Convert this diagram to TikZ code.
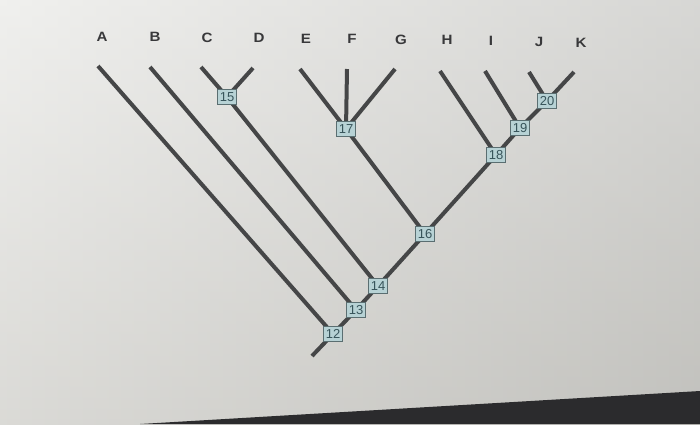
\documentclass[tikz,border=0pt]{standalone}
\usepackage{fontspec}
\setmainfont{Liberation Sans}
\definecolor{bgtop}{HTML}{F0F0EE}
\definecolor{bgbot}{HTML}{C9C8C3}
\definecolor{bgright}{HTML}{B9B9B6}
\definecolor{bezel}{HTML}{2B2B2D}
\definecolor{branch}{HTML}{454647}
\definecolor{boxfill}{HTML}{B7D2D5}
\definecolor{boxdraw}{HTML}{5A6E71}
\definecolor{boxtext}{HTML}{37545A}
\definecolor{labeltext}{HTML}{38383A}
\newcommand{\taxlab}[1]{\scalebox{1.12}[1]{#1}}
\tikzset{
  taxon/.style={font=\fontsize{13.5}{13.5}\selectfont\bfseries, text=labeltext, inner sep=0pt},
  nodebox/.style={draw=boxdraw, line width=0.8pt, fill=boxfill, minimum width=19pt, minimum height=15pt, inner sep=0pt, font=\fontsize{13}{13}\selectfont, text=boxtext},
  branchline/.style={draw=branch, line width=4pt},
}
\begin{document}
\begin{tikzpicture}[x=1pt,y=-1pt]
\useasboundingbox (0,0) rectangle (700,424);
\shade[top color=bgtop, bottom color=bgbot] (0,0) rectangle (700,424);
\shade[left color=bgtop, right color=bgright, opacity=0.45] (0,0) rectangle (700,424);
\fill[bezel] (140,424) -- (700,391) -- (700,424) -- cycle;
% taxon labels
\node[taxon] (lA) at (102,37) {\taxlab{A}};
\node[taxon] (lB) at (155,37) {\taxlab{B}};
\node[taxon] (lC) at (207,38) {\taxlab{C}};
\node[taxon] (lD) at (259,38) {\taxlab{D}};
\node[taxon] (lE) at (306,39) {\taxlab{E}};
\node[taxon] (lF) at (352,39) {\taxlab{F}};
\node[taxon] (lG) at (401,40) {\taxlab{G}};
\node[taxon] (lH) at (447,40) {\taxlab{H}};
\node[taxon] (lI) at (491,41) {\taxlab{I}};
\node[taxon] (lJ) at (539,42) {\taxlab{J}};
\node[taxon] (lK) at (581,43) {\taxlab{K}};
% leaf tips
\coordinate (tA) at (98,66);
\coordinate (tB) at (150,67);
\coordinate (tC) at (201,67);
\coordinate (tD) at (253,68);
\coordinate (tE) at (300,69);
\coordinate (tF) at (347,69);
\coordinate (tG) at (395,69);
\coordinate (tH) at (440,71);
\coordinate (tI) at (485,71);
\coordinate (tJ) at (529,72);
\coordinate (tK) at (574,72);
\coordinate (root) at (312,356);
% internal node positions
\coordinate (c15) at (227,97);
\coordinate (c17) at (346,129);
\coordinate (c20) at (547,101);
\coordinate (c19) at (520,128);
\coordinate (c18) at (496,155);
\coordinate (c16) at (425,234);
\coordinate (c14) at (378,286);
\coordinate (c13) at (356,310);
\coordinate (c12) at (333,334);
% branches
\draw[branchline] (root) -- (c12) -- (c13) -- (c14) -- (c16) -- (c18) -- (c19) -- (c20) -- (tK);
\draw[branchline] (c12) -- (tA);
\draw[branchline] (c13) -- (tB);
\draw[branchline] (c14) -- (c15) -- (tC);
\draw[branchline] (c15) -- (tD);
\draw[branchline] (c16) -- (c17) -- (tE);
\draw[branchline] (c17) -- (tF);
\draw[branchline] (c17) -- (tG);
\draw[branchline] (c18) -- (tH);
\draw[branchline] (c19) -- (tI);
\draw[branchline] (c20) -- (tJ);
% node boxes
\node[nodebox] (n15) at (c15) {15};
\node[nodebox] (n17) at (c17) {17};
\node[nodebox] (n20) at (c20) {20};
\node[nodebox] (n19) at (c19) {19};
\node[nodebox] (n18) at (c18) {18};
\node[nodebox] (n16) at (c16) {16};
\node[nodebox] (n14) at (c14) {14};
\node[nodebox] (n13) at (c13) {13};
\node[nodebox] (n12) at (c12) {12};
\end{tikzpicture}
\end{document}
